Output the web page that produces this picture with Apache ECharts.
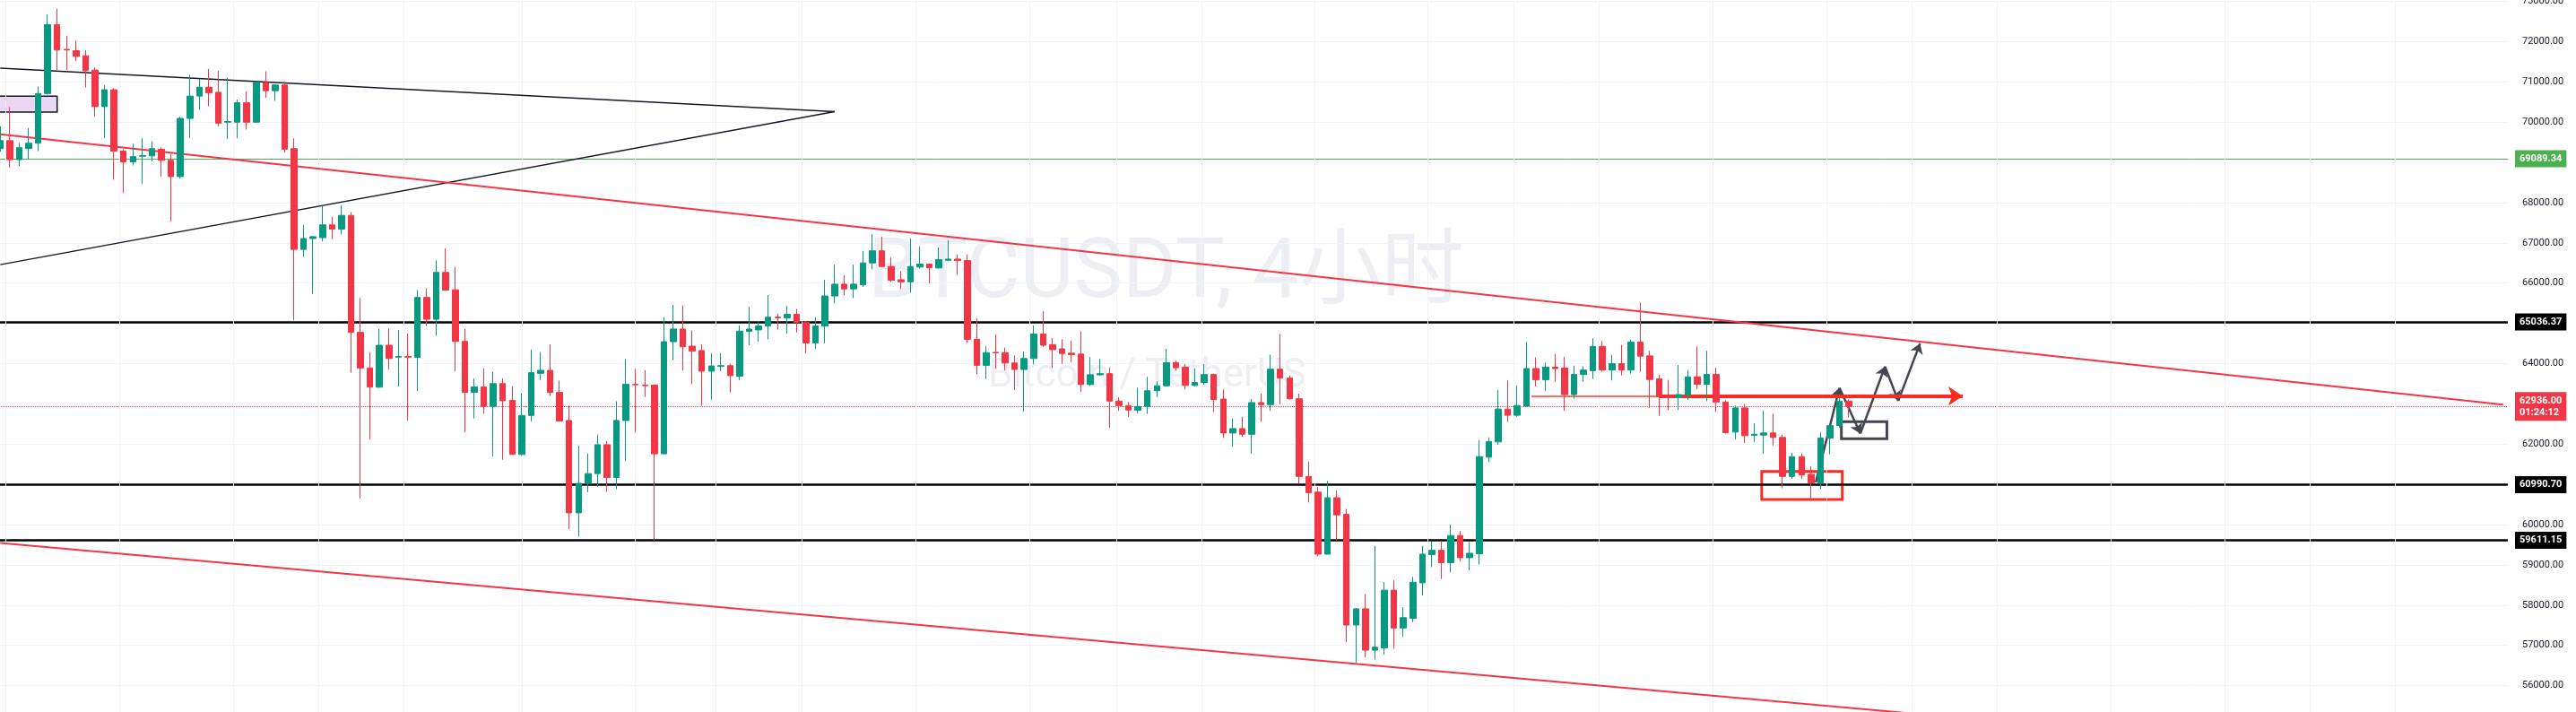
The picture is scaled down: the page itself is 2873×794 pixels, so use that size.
<!DOCTYPE html>
<html>
<head>
<meta charset="utf-8">
<script src="https://cdn.jsdelivr.net/npm/echarts@6/dist/echarts.min.js"></script>
<style>
    html, body {margin: 0; padding: 0; background: #fff; overflow: hidden; width: 2873px; height: 794px;}
    /* 价格区间 55000~73000 比视口略大，画布向上/左伸出 */
    #chart {position: absolute; left: -5px; top: -4px; width: 2878px; height: 819px;}
</style>
</head>
<body>
<div id="chart"></div>
<script>
// BTCUSDT 4小时 K线，每根: [开, 收, 低, 高]
var candles = [
    [69342,69540,69263,69895],[69540,69066,68868,70369],[69066,69366,68908,69484],[69342,69476,69066,69856],
    [69476,70709,69279,70883],[70709,72423,70685,72676],[72423,71791,71293,72818],[71807,71791,71293,72146],
    [71775,71633,71514,72028],[71649,71277,70859,71791],[71293,70385,70132,71356],[70385,70804,69603,70922],
    [70804,69279,68568,70843],[69279,69010,68236,69326],[69010,69144,68923,69460],[69152,69168,68473,69603],
    [69160,69342,69026,69524],[69326,69050,68647,69366],[69050,68647,67525,69208],[68647,70092,68592,70132],
    [70092,70646,69603,71175],[70646,70867,70306,71080],[70867,70725,70393,71317],[70741,69974,69895,71277],
    [69998,70014,69579,71104],[69998,70480,69595,70559],[70480,69998,69816,70764],[69998,70985,69998,71001],
    [70985,70780,70606,71262],[70780,70922,70527,70938],[70922,69326,69239,71001],[69342,66838,65076,69595],
    [66838,67107,66656,67446],[67107,67154,65732,67170],[67130,67446,67035,67920],[67446,67343,67091,67644],
    [67343,67683,67209,67936],[67683,64776,63773,67762],[64776,63891,60652,65629],[63891,63417,62114,64286],
    [63416,64457,63394,64860],[64457,64127,63848,64874],[64160,64180,63430,64838],[64180,64160,62588,64750],
    [64156,65644,63320,65827],[65644,65101,64933,65871],[65101,66267,64691,66560],[66267,65827,65813,66861],
    [65835,64552,63811,66399],[64552,63284,62294,64860],[63284,63423,62639,63628],[63423,62939,62756,63885],
    [62939,63504,61693,63797],[63504,63078,61612,63635],[63086,61744,61744,63430],[61744,62712,61708,63262],
    [62712,63775,62566,64347],[63760,63833,63592,64288],[63833,63284,63196,64479],[63284,62573,62573,63577],
    [62588,60293,59890,62954],[60293,61026,59707,61964],[61026,61268,60806,61766],[61268,61986,60938,62236],
    [61986,61173,60813,62074],[61173,62588,60880,63064],[62588,63489,61583,64112],[63489,63474,62294,63870],
    [63467,63452,63174,63833],[63467,61759,59619,63467],[61759,64545,61759,65153],[64545,64860,64090,65461],
    [64860,64420,63833,65446],[64435,64310,63489,64823],[64325,63811,62954,64479],[63811,63943,63101,64259],
    [63930,63950,63811,64259],[63950,63702,63284,63995],[63687,64808,63592,64948],[64801,64860,64457,65409],
    [64838,64933,64552,65028],[64933,65153,64603,65703],[65153,65138,64845,65241],[65138,65226,64750,65431],
    [65226,65021,64772,65358],[65021,64515,64251,65058],[64515,64933,64369,65153],[64933,65681,64508,66084],
    [65681,65974,65497,66458],[65974,65857,65703,66194],[65857,65974,65629,66458],[65959,66502,65908,66802],
    [66502,66802,66340,67220],[66802,66414,66414,67154],[66414,66069,66032,66633],[66084,66032,65849,66304],
    [66032,66414,65761,67110],[66399,66472,66362,66905],[66472,66384,65996,66472],[66377,66582,66362,66890],
    [66567,66597,66567,67059],[66597,66560,66201,66714],[66560,64603,64515,66714],[64603,63958,63738,65131],
    [63958,64273,63613,64435],[64281,64266,63870,64728],[64273,64017,63833,64398],[64017,63855,63342,64200],
    [63855,64127,62807,64303],[64127,64735,63980,64948],[64735,64457,64420,65299],[64471,64347,63892,64640],
    [64369,64251,63995,64603],[64259,64222,64039,64566],[64237,63482,63298,64801],[63482,63724,63445,64163],
    [63722,63751,63693,64118],[63751,63069,62408,63898],[63069,62958,62826,63164],[62958,62848,62679,63047],
    [62840,62936,62760,63399],[62936,63326,62753,63670],[63326,63450,63164,63560],[63450,64023,63436,64368],
    [64023,63898,63824,64074],[63912,63458,63362,63986],[63458,63531,63436,63876],[63531,63729,63472,63986],
    [63729,63106,62797,63751],[63120,62276,62151,63362],[62276,62386,61931,62643],[62386,62246,62188,62680],
    [62246,63032,61762,63120],[63032,62980,62555,63252],[62980,63861,62826,64221],[63861,63641,62995,64735],
    [63641,63127,63105,63707],[63127,61197,61013,63252],[61197,60793,60551,61564],[60808,59266,59215,60940],
    [59266,60668,59266,61087],[60668,60243,59619,60845],[60257,57505,57086,60389],[57506,57909,56573,57930],
    [57909,56881,56705,58276],[56881,56955,56647,59473],[56940,58372,56771,58570],[58372,57432,56918,58614],
    [57432,57689,57212,57946],[57674,58570,57579,58702],[58555,59267,58240,59473],[59253,59363,58944,59583],
    [59363,59054,58650,59598],[59054,59730,58812,60001],[59730,59179,59084,59840],[59179,59289,58864,59568],
    [59275,61689,59010,62101],[61675,62064,61550,62167],[62057,62871,61983,63341],[62871,62717,62555,63583],
    [62717,62959,62680,63458],[62944,63877,62930,64537],[63877,63598,63436,64156],[63598,63914,63312,64024],
    [63914,63877,63546,64244],[63892,63231,62827,64170],[63231,63730,63128,63950],[63730,63840,63547,63936],
    [63825,64427,63620,64633],[64427,63840,63803,64559],[63840,64001,63583,64221],[64001,63840,63708,64464],
    [63840,64537,63752,64596],[64537,64185,63803,65513],[64192,63605,62900,64317],[63620,63179,62702,63730],
    [63194,63157,62849,63598],[63157,63231,62849,63965],[63216,63671,63106,63840],[63671,63488,63363,64427],
    [63488,63730,63069,64317],[63730,63047,62798,63899],[63047,62284,62262,63091],[62299,62900,62115,62959],
    [62900,62210,62027,62996],[62218,62247,62056,62519],[62225,62277,61763,62834],[62277,62166,61968,62761],
    [62166,61198,60904,62240],[61198,61689,61139,61785],[61689,61234,61139,61770],[61249,61036,60625,61454],
    [61036,62152,60882,62299],[62152,62460,61748,62519],[62460,63069,62409,63179],[63069,62936,62665,63106]
];

var slotCount = 265;               // 含右侧空白
var priceMin = 55000, priceMax = 73000;

// 水平关键位
var levelGreen = 69089.34;
var levelsBlack = [65036.37, 60990.70, 59611.15];
var lastPrice = 62936.00;
var countdown = '01:24:12';

// 趋势线 [K线序号, 价格]
var upperBlack = [[0, 71340], [88, 70260]];
var risingBlack = [[0, 66460], [88, 70260]];
var upperRed = [[0, 69700], [264, 62980]];
var lowerRed = [[0, 59543], [264, 54000]];

// 日分隔竖线（K线序号）
var daySeps = [0.6, 12.6, 24.6, 33.6, 42.6, 55, 67, 75.5, 84.5, 96.6, 108.6, 117.7, 126.7, 138.6,
    150.6, 159.6, 168.6, 180.6, 192.6, 201.6, 210.6, 222.6, 234.6, 243.6, 252.6];

// 标注
var purpleBox = [[-1, 70646], [6, 70250]];
var redBox = [[185.8, 61322], [194.3, 60625]];
var grayBox = [[194.2, 62555], [199, 62137]];
var thinRed = [[161.5, 63185], [175, 63190]];
var thickRed = [[175, 63194], [207, 63194]];
var zigzag = [[191.5, 61051], [194, 63399], [196.2, 62262], [198.8, 63928], [200.2, 63073], [202.5, 64500]];

var cats = [];
for (var i = 0; i < slotCount; i++) cats.push(String(i));

function badge(val, bg, text) {
    return {
        show: true, position: 'end', distance: 8,
        formatter: text || val.toFixed(2),
        backgroundColor: bg, color: '#fff', padding: [3, 5],
        fontSize: 11, fontFamily: 'Roboto', fontWeight: 'bold', lineHeight: 13
    };
}

var hLines = [
    {yAxis: levelGreen, lineStyle: {color: '#4caf50', width: 1, type: 'solid'}, label: badge(levelGreen, '#4caf50')},
    {yAxis: lastPrice, lineStyle: {color: '#f23645', width: 1, type: 'dotted'},
        label: badge(lastPrice, '#f23645', lastPrice.toFixed(2) + '\n' + countdown)}
];
for (var b = 0; b < levelsBlack.length; b++) {
    hLines.push({yAxis: levelsBlack[b], lineStyle: {color: '#000', width: 2.5, type: 'solid'},
        label: badge(levelsBlack[b], '#000')});
}

var gridLines = daySeps.map(function (v) {
    return {xAxis: v, lineStyle: {color: '#f0f3fa', width: 1, type: 'solid'}, label: {show: false}};
});

function seg(a, c, w, sym, size) {
    return [
        {coord: a, symbol: 'none'},
        {coord: c, symbol: sym, symbolSize: size, lineStyle: {color: w.color, width: w.width, type: 'solid'}}
    ];
}

var arrowSegs = [];
for (var k = 0; k < zigzag.length - 1; k++) {
    arrowSegs.push(seg(zigzag[k], zigzag[k + 1], {color: '#434651', width: 2.5}, 'arrow', 11));
}
arrowSegs.push(seg(thinRed[0], thinRed[1], {color: '#ff3b30', width: 1.5}, 'none', 0));
arrowSegs.push(seg(thickRed[0], thickRed[1], {color: '#ff2a1f', width: 4}, 'arrow', 16));

function trend(pts, color, width) {
    return {
        type: 'line', xAxisIndex: 1, data: pts, symbol: 'none', clip: true, silent: true,
        lineStyle: {color: color, width: width}, z: 3, animation: false
    };
}

var chart = echarts.init(document.getElementById('chart'));
var option = {
    animation: false,
    backgroundColor: '#ffffff',
    grid: {left: 0, right: 76, top: 0, bottom: 0},
    graphic: [
        {type: 'text', left: 973, top: 266, z: -10, silent: true,
            style: {text: 'BTCUSDT, 4小时', fontSize: 92, fontFamily: 'Roboto, "Noto Sans CJK SC"', fill: '#eceef3'}},
        {type: 'text', left: 1107, top: 402, z: -10, silent: true,
            style: {text: 'Bitcoin / TetherUS', fontSize: 44, fontFamily: 'Roboto', fill: '#eceef3'}}
    ],
    xAxis: [
        {type: 'category', data: cats, show: false, boundaryGap: true},
        {type: 'value', min: -0.5, max: slotCount - 0.5, show: false}
    ],
    yAxis: {
        type: 'value', position: 'right', min: priceMin, max: priceMax, interval: 1000, scale: true,
        axisLine: {show: false}, axisTick: {show: false},
        splitLine: {lineStyle: {color: '#f0f3fa', width: 1}},
        axisLabel: {
            margin: 16, color: '#131722', fontSize: 11, fontFamily: 'Roboto',
            formatter: function (v) {
                if (v === 69000 || v === 65000 || v === 63000 || v === 61000) return '';
                return v.toFixed(2);
            }
        }
    },
    series: [
        {
            type: 'candlestick', data: candles, barWidth: 7, z: 4,
            itemStyle: {color: '#089981', color0: '#f23645', borderColor: '#089981', borderColor0: '#f23645', borderWidth: 1}
        },
        trend(upperBlack, '#131722', 1.3),
        trend(risingBlack, '#131722', 1.3),
        trend(lowerRed, '#f23645', 2),
        {
            type: 'line', xAxisIndex: 1, data: upperRed, symbol: 'none', clip: true, silent: true,
            lineStyle: {color: '#f23645', width: 2}, z: 3,
            markLine: {silent: true, symbol: 'none', animation: false, precision: 2, data: hLines.concat(gridLines).concat(arrowSegs), z: 2},
            markArea: {
                silent: true,
                data: [
                    [{coord: purpleBox[0], itemStyle: {color: 'rgba(206,167,230,0.45)', borderColor: '#131722', borderWidth: 1.5}}, {coord: purpleBox[1]}],
                    [{coord: redBox[0], itemStyle: {color: 'rgba(0,0,0,0)', borderColor: '#ff2a1f', borderWidth: 3}}, {coord: redBox[1]}],
                    [{coord: grayBox[0], itemStyle: {color: 'rgba(0,0,0,0)', borderColor: '#434651', borderWidth: 3}}, {coord: grayBox[1]}]
                ]
            }
        }
    ]
};
chart.setOption(option);
</script>
</body>
</html>
